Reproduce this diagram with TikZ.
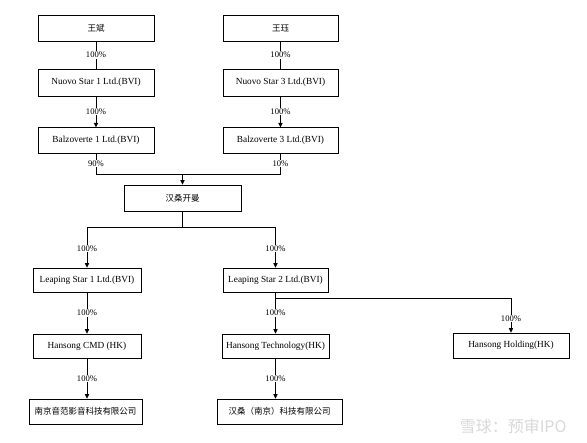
\documentclass[tikz,border=0pt]{standalone}
\usepackage{fontspec}
\setmainfont{Liberation Serif}
\newfontfamily\cjk{Noto Sans CJK SC}
\usetikzlibrary{arrows.meta,calc}
\begin{document}
\begin{tikzpicture}[x=1pt,y=-1pt,
  box/.style={draw,line width=0.8pt,inner sep=0pt,font=\fontsize{9.3}{10}\selectfont},
  cjkbox/.style={box,font=\cjk\fontsize{8.5}{10}\selectfont},
  lab/.style={fill=white,inner sep=0.6pt,font=\fontsize{8.6}{9}\selectfont},
  ln/.style={line width=0.8pt},
  arr/.style={line width=0.8pt,-{Triangle[length=4.5pt,width=4.2pt]}}]
\useasboundingbox[fill=white] (0,0) rectangle (587,443);
% nodes
\node[cjkbox,minimum width=116pt,minimum height=26pt] (w1) at (96,28) {王斌};
\node[cjkbox,minimum width=115pt,minimum height=26pt] (w2) at (280.5,28) {王珏};
\node[box,minimum width=116pt,minimum height=27pt] (n1) at (96,82.5) {Nuovo Star 1 Ltd.(BVI)};
\node[box,minimum width=115pt,minimum height=27pt] (n3) at (280.5,82.5) {Nuovo Star 3 Ltd.(BVI)};
\node[box,minimum width=116pt,minimum height=25.5pt] (b1) at (96,140.5) {Balzoverte 1 Ltd.(BVI)};
\node[box,minimum width=115pt,minimum height=25.5pt] (b3) at (280.5,140.5) {Balzoverte 3 Ltd.(BVI)};
\node[cjkbox,minimum width=117pt,minimum height=26pt] (hk) at (182.5,198) {汉桑开曼};
\node[box,minimum width=108pt,minimum height=24pt] (ls1) at (87,280) {Leaping Star 1 Ltd.(BVI)};
\node[box,minimum width=105pt,minimum height=24pt] (ls2) at (275.5,280) {Leaping Star 2 Ltd.(BVI)};
\node[box,minimum width=108pt,minimum height=24pt] (cmd) at (87,346) {Hansong CMD (HK)};
\node[box,minimum width=107pt,minimum height=24pt] (tech) at (275.5,346) {Hansong Technology(HK)};
\node[box,minimum width=116pt,minimum height=25pt] (hold) at (511,345.5) {Hansong Holding(HK)};
\node[cjkbox,minimum width=113pt,minimum height=25pt] (nj1) at (85.5,411.5) {南京音范影音科技有限公司};
\node[cjkbox,minimum width=125pt,minimum height=25pt] (nj2) at (279.5,411.5) {汉桑（南京）科技有限公司};
% connectors
\draw[ln] (w1.south -| n1.north) -- node[lab]{100\%} (n1.north);
\draw[ln] (w2.south) -- node[lab]{100\%} (n3.north);
\draw[arr] (n1.south) -- node[lab]{100\%} (b1.north);
\draw[arr] (n3.south) -- node[lab]{100\%} (b3.north);
\coordinate (j1) at (hk.north |- 0,174);
\draw[ln] (b1.south) |- node[lab,pos=0.24]{90\%} (j1);
\draw[ln] (b3.south) |- node[lab,pos=0.24]{10\%} (j1);
\draw[arr] (j1) -- (hk.north);
\coordinate (j2) at ($(hk.south)+(0,16)$);
\draw[ln] (hk.south) -- (j2);
\draw[arr] (j2) -| node[lab,pos=0.76]{100\%} (ls1.north);
\draw[arr] (j2) -| node[lab,pos=0.76]{100\%} (ls2.north);
\draw[arr] (ls1.south) -- node[lab]{100\%} (cmd.north);
\draw[arr] (ls2.south) -- node[lab]{100\%} (tech.north);
\coordinate (j3) at ($(ls2.south)+(0,6)$);
\draw[arr] (j3) -| node[lab,pos=0.8]{100\%} (hold.north);
\draw[arr] (cmd.south) -- node[lab]{100\%} (cmd.south |- nj1.north);
\draw[arr] (tech.south) -- node[lab]{100\%} (tech.south |- nj2.north);
% watermark
\node[text=gray!30,font=\cjk\fontsize{16}{17}\selectfont,anchor=east] (wm) at (570,426) {雪球：预审IPO};
\end{tikzpicture}
\end{document}
